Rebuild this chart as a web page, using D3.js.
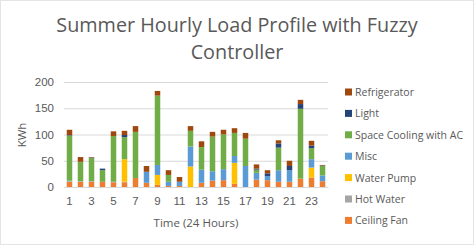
<!DOCTYPE html>
<html lang="en">
<head>
<meta charset="UTF-8">
<title>Summer Hourly Load Profile with Fuzzy Controller</title>
<script src="https://cdn.jsdelivr.net/npm/d3@7"></script>
<style>
  body { margin: 0; background: #fff; }
  svg { display: block; font-family: "Open Sans", "Noto Sans", sans-serif; }
</style>
</head>
<body>
<svg id="chart" width="474" height="245"></svg>
<script>
// hours 1..24
var hours = d3.range(1, 25);
var yTicks = [0, 50, 100, 150, 200];
var xTickLabels = [1, 3, 5, 7, 9, 11, 13, 15, 17, 19, 21, 23];

// series, bottom to top
var seriesNames = ["Ceiling Fan", "Hot Water", "Water Pump", "Misc", "Space Cooling with AC", "Light", "Refrigerator"];
var seriesColors = ["#ED7D31", "#A5A5A5", "#FFC000", "#5B9BD5", "#70AD47", "#264478", "#9E480E"];

var ceilingFan  = [10, 10, 10, 10, 9, 9, 17, 8, 4, 2, 2, 0, 8, 12, 13, 6, 0, 14, 13, 10, 10, 16, 18, 11];
var hotWater    = [1, 1, 1, 0, 1, 1, 0, 0, 0, 0, 0, 0, 0, 0, 0, 0, 0, 0, 0, 0, 0, 0, 0, 0];
var waterPump   = [0, 0, 0, 0, 0, 43, 0, 0, 19, 0, 0, 39, 0, 0, 0, 40, 0, 0, 0, 0, 0, 0, 19, 0];
var misc        = [1, 0, 0, 0, 0, 0, 0, 21, 19, 8, 8, 38, 25, 18, 21, 13, 40, 13, 8, 22, 22, 0, 16, 11];
var spaceCool   = [86, 37, 44, 22, 87, 42, 88, 0, 132, 13, 0, 30, 43, 66, 66, 44, 52, 6, 0, 43, 0, 133, 21, 18];
var light       = [1, 0, 1, 3, 0, 4, 0, 0, 0, 0, 0, 0, 0, 0, 0, 0, 0, 2, 5, 8, 8, 9, 5, 1];
var fridge      = [10, 9, 1, 0, 9, 8, 11, 11, 9, 9, 9, 9, 11, 9, 9, 9, 11, 8, 6, 6, 10, 8, 9, 1];

var seriesValues = [ceilingFan, hotWater, waterPump, misc, spaceCool, light, fridge];

var rows = hours.map(function(h, i) {
  var r = { hour: h };
  seriesNames.forEach(function(s, j) { r[s] = seriesValues[j][i]; });
  return r;
});

var svg = d3.select("#chart");

svg.append("rect")
  .attr("x", 0.5).attr("y", 0.5)
  .attr("width", 473).attr("height", 244)
  .attr("fill", "#fff").attr("stroke", "#e4e4e4");

var plotLeft = 64, plotRight = 328, plotTop = 82, plotBottom = 187;

var x = d3.scaleBand().domain(hours).range([plotLeft, plotRight]).paddingInner(0.5).paddingOuter(0.25);
var y = d3.scaleLinear().domain([0, 200]).range([plotBottom, plotTop]);

// title
svg.append("text")
  .attr("x", 237).attr("y", 32)
  .attr("text-anchor", "middle")
  .attr("font-size", 19.8).attr("fill", "#595959")
  .text("Summer Hourly Load Profile with Fuzzy");
svg.append("text")
  .attr("x", 237).attr("y", 59)
  .attr("text-anchor", "middle")
  .attr("font-size", 19.8).attr("fill", "#595959")
  .text("Controller");

// grid + y axis
var yAxis = d3.axisLeft(y).tickValues(yTicks).tickSize(-(plotRight - plotLeft)).tickPadding(10);
var gy = svg.append("g").attr("transform", "translate(" + plotLeft + ",0)").call(yAxis);
gy.select(".domain").remove();
gy.selectAll(".tick line").attr("stroke", "#d9d9d9");
gy.selectAll(".tick text").attr("font-size", 11.5).attr("fill", "#595959").attr("font-family", "inherit");

// stacked bars
var stack = d3.stack().keys(seriesNames);
var layers = stack(rows);

svg.append("g").selectAll("g")
  .data(layers)
  .enter().append("g")
  .attr("fill", function(d, i) { return seriesColors[i]; })
  .selectAll("rect")
  .data(function(d) { return d; })
  .enter().append("rect")
  .attr("x", function(d) { return x(d.data.hour); })
  .attr("y", function(d) { return y(d[1]); })
  .attr("width", x.bandwidth())
  .attr("height", function(d) { return y(d[0]) - y(d[1]); });

// x axis
var xAxis = d3.axisBottom(x).tickValues(xTickLabels).tickSize(0).tickPadding(10);
var gx = svg.append("g").attr("transform", "translate(0," + plotBottom + ")").call(xAxis);
gx.select(".domain").attr("stroke", "#d9d9d9");
gx.selectAll(".tick text").attr("font-size", 11.5).attr("fill", "#595959").attr("font-family", "inherit");

// axis titles
svg.append("text")
  .attr("x", 196).attr("y", 227)
  .attr("text-anchor", "middle")
  .attr("font-size", 11.5).attr("fill", "#595959")
  .text("Time (24 Hours)");
svg.append("text")
  .attr("transform", "translate(26,135) rotate(-90)")
  .attr("text-anchor", "middle")
  .attr("font-size", 11.5).attr("fill", "#595959")
  .text("KWh");

// legend, top to bottom reversed order
var legendItems = seriesNames.slice().reverse();
var legendColors = seriesColors.slice().reverse();
var lg = svg.append("g").selectAll("g")
  .data(legendItems)
  .enter().append("g")
  .attr("transform", function(d, i) { return "translate(345," + (92 + i * 21.4) + ")"; });
lg.append("rect")
  .attr("x", 0).attr("y", -3.5)
  .attr("width", 7).attr("height", 7)
  .attr("fill", function(d, i) { return legendColors[i]; });
lg.append("text")
  .attr("x", 10).attr("y", 4)
  .attr("font-size", 10.5).attr("fill", "#595959")
  .text(function(d) { return d; });
</script>
</body>
</html>
